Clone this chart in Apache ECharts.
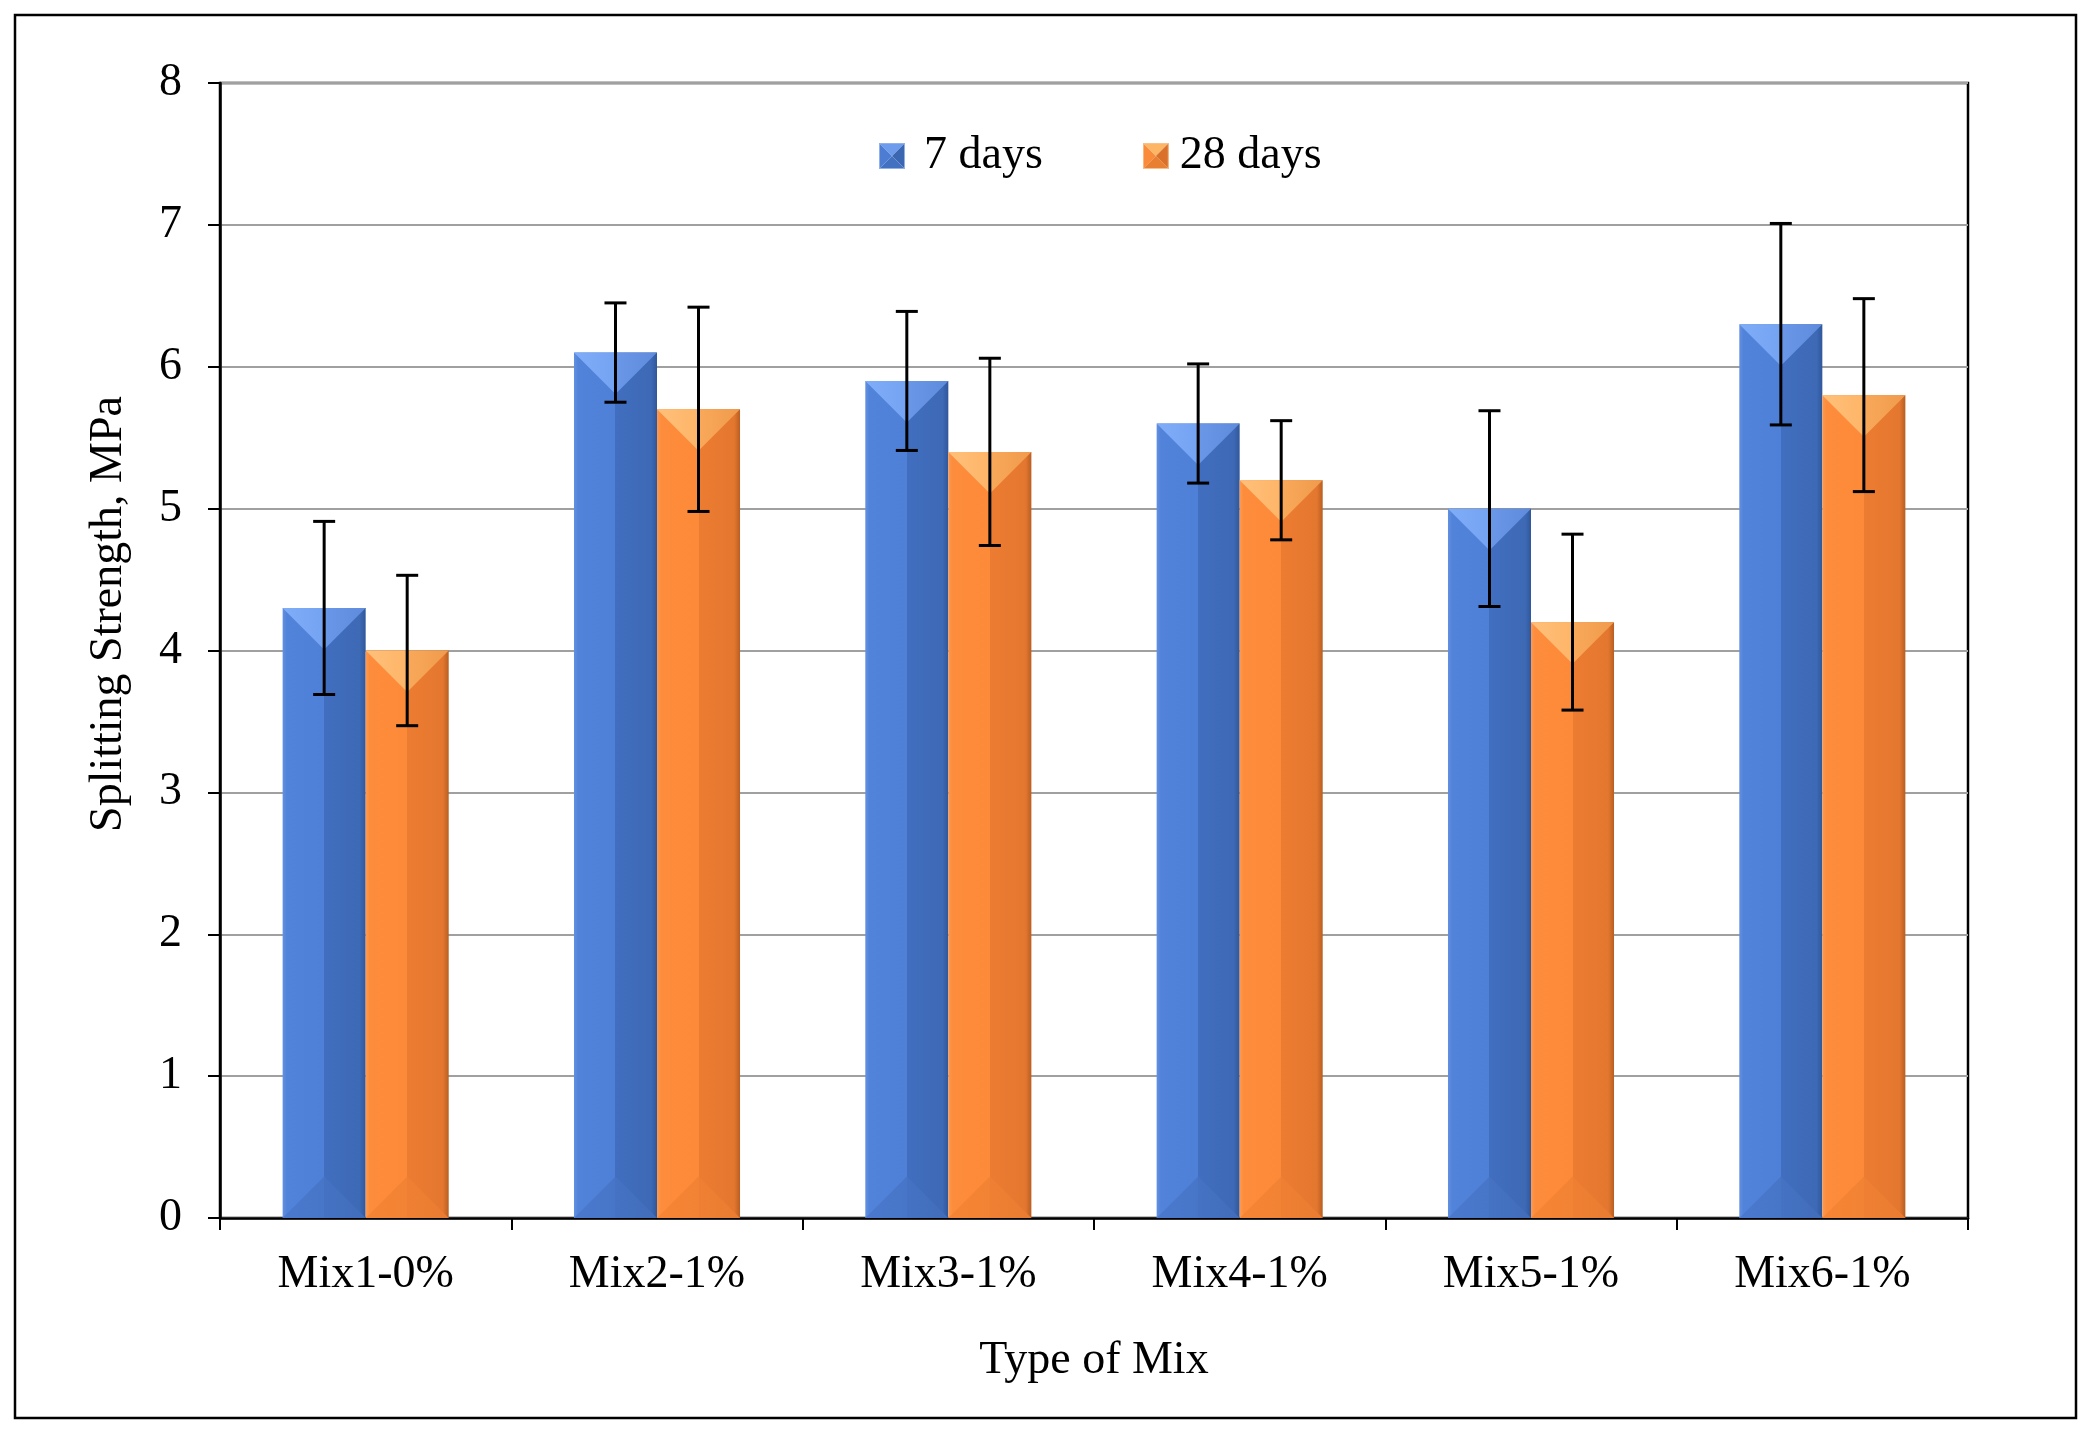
<!DOCTYPE html>
<html lang="en">
<head>
    <meta charset="UTF-8">
    <title>Splitting Strength</title>
    <script src="https://cdn.jsdelivr.net/npm/echarts@6/dist/echarts.min.js"></script>
    <style>
        body { margin: 0; background: #fff; }
    </style>
</head>
<body>
    <div id="main" style="width: 2092px;height: 1433px"></div>
    <script type="application/javascript">
        // data
        var categories = ['Mix1-0%', 'Mix2-1%', 'Mix3-1%', 'Mix4-1%', 'Mix5-1%', 'Mix6-1%'];
        var days7 = [4.3, 6.1, 5.9, 5.6, 5.0, 6.3];
        var days28 = [4.0, 5.7, 5.4, 5.2, 4.2, 5.8];
        var err7 = [0.61, 0.35, 0.49, 0.42, 0.69, 0.71];
        var err28 = [0.53, 0.72, 0.66, 0.42, 0.62, 0.68];
        var yTicks = [0, 1, 2, 3, 4, 5, 6, 7, 8];

        var FONT = 'Liberation Serif';
        var GAP = 0.43; // bar category gap ratio

        var myChart = echarts.init(document.getElementById('main'));

        function hGrad(stops) {
            return new echarts.graphic.LinearGradient(0, 0, 1, 0, stops);
        }

        var blueBody = hGrad([
            {offset: 0, color: '#6390e0'}, {offset: 0.05, color: '#5283da'},
            {offset: 0.5, color: '#4f80d7'}, {offset: 0.5, color: '#416ebf'},
            {offset: 0.93, color: '#3d69b5'}, {offset: 1, color: '#30579a'}
        ]);
        var orangeBody = hGrad([
            {offset: 0, color: '#fd9a50'}, {offset: 0.05, color: '#fd8c3c'},
            {offset: 0.5, color: '#fd8a38'}, {offset: 0.5, color: '#ec7c31'},
            {offset: 0.93, color: '#e4772f'}, {offset: 1, color: '#b85e22'}
        ]);
        var blueTop = hGrad([
            {offset: 0, color: '#80adf7'}, {offset: 0.5, color: '#74a3f3'},
            {offset: 0.5, color: '#6a97e8'}, {offset: 1, color: '#5f8bdc'}
        ]);
        var orangeTop = hGrad([
            {offset: 0, color: '#ffc07a'}, {offset: 0.5, color: '#feb568'},
            {offset: 0.5, color: '#f9a95a'}, {offset: 1, color: '#f09a4c'}
        ]);
        var blueFoot = hGrad([
            {offset: 0, color: '#4a79cd'}, {offset: 0.5, color: '#4776c9'},
            {offset: 0.5, color: '#4572c3'}, {offset: 1, color: '#416dba'}
        ]);
        var orangeFoot = hGrad([
            {offset: 0, color: '#f68535'}, {offset: 0.5, color: '#f38334'},
            {offset: 0.5, color: '#ef8033'}, {offset: 1, color: '#e97c31'}
        ]);

        // bevelled square legend icons
        function bevelIcon(top, left, right, bottom, edge) {
            var svg = '<svg xmlns="http://www.w3.org/2000/svg" width="26" height="26" viewBox="0 0 26 26">' +
                '<polygon points="0,0 26,0 13,13" fill="' + top + '"/>' +
                '<polygon points="0,0 13,13 0,26" fill="' + left + '"/>' +
                '<polygon points="26,0 26,26 13,13" fill="' + right + '"/>' +
                '<polygon points="0,26 13,13 26,26" fill="' + bottom + '"/>' +
                '<rect x="0.5" y="0.5" width="25" height="25" fill="none" stroke="' + edge + '"/>' +
                '</svg>';
            return 'image://data:image/svg+xml;charset=utf-8,' + encodeURIComponent(svg);
        }
        var blueIcon = bevelIcon('#6e9cec', '#4c7dd3', '#3b67b2', '#4271c2', '#8fb0e8');
        var orangeIcon = bevelIcon('#fdb566', '#f98b3a', '#d9712b', '#e98031', '#fbc08a');

        function barBox(api, side) {
            var idx = api.value(0);
            var v = api.value(1);
            var top = api.coord([idx, v]);
            var base = api.coord([idx, 0]);
            var w = api.size([1, 0])[0] * (1 - GAP) / 2;
            var x0 = side < 0 ? top[0] - w : top[0];
            return {x0: x0, x1: x0 + w, xm: x0 + w / 2, top: top[1], base: base[1], w: w};
        }

        function bevelRender(side, topFill, footFill) {
            return function (params, api) {
                var b = barBox(api, side);
                var d = Math.min(b.w / 2, (b.base - b.top) / 2);
                return {
                    type: 'group',
                    children: [
                        {type: 'polygon', shape: {points: [[b.x0, b.top], [b.x1, b.top], [b.xm, b.top + d]]},
                            style: {fill: topFill}},
                        {type: 'polygon', shape: {points: [[b.x0, b.base], [b.x1, b.base], [b.xm, b.base - d]]},
                            style: {fill: footFill}}
                    ]
                };
            };
        }

        function errRender(side) {
            return function (params, api) {
                var idx = api.value(0);
                var lo = api.coord([idx, api.value(1)]);
                var hi = api.coord([idx, api.value(2)]);
                var w = api.size([1, 0])[0] * (1 - GAP) / 2;
                var x = lo[0] + side * w / 2;
                var cap = 11;
                var st = {stroke: '#000', lineWidth: 3};
                return {
                    type: 'group',
                    children: [
                        {type: 'line', shape: {x1: x, y1: lo[1], x2: x, y2: hi[1]}, style: st},
                        {type: 'line', shape: {x1: x - cap, y1: hi[1], x2: x + cap, y2: hi[1]}, style: st},
                        {type: 'line', shape: {x1: x - cap, y1: lo[1], x2: x + cap, y2: lo[1]}, style: st}
                    ]
                };
            };
        }

        var bev7 = days7.map(function (v, i) { return [i, v]; });
        var bev28 = days28.map(function (v, i) { return [i, v]; });
        var eb7 = days7.map(function (v, i) { return [i, v - err7[i], v + err7[i]]; });
        var eb28 = days28.map(function (v, i) { return [i, v - err28[i], v + err28[i]]; });

        var option = {
            animation: false,
            backgroundColor: '#fff',
            textStyle: {fontFamily: FONT, color: '#000'},
            grid: {
                left: 220, right: 124, top: 83, bottom: 215,
                show: true, borderColor: '#000', borderWidth: 2.5
            },
            legend: {
                data: [
                    {name: '7 days', icon: blueIcon, textStyle: {padding: [0, 0, 0, 14]}},
                    {name: '28 days', icon: orangeIcon, textStyle: {padding: [0, 0, 0, 6]}}
                ],
                top: 128,
                left: 874,
                itemWidth: 26,
                itemHeight: 26,
                itemGap: 100,
                textStyle: {fontFamily: FONT, fontSize: 46, color: '#000'}
            },
            graphic: [
                {
                    type: 'rect', silent: true,
                    shape: {x: 15, y: 15, width: 2061, height: 1403},
                    style: {fill: 'none', stroke: '#000', lineWidth: 2.5}
                },
                {
                    type: 'text', silent: true,
                    x: 109, y: 614, rotation: Math.PI / 2,
                    style: {
                        text: 'Splitting Strength, MPa', fontFamily: FONT, fontSize: 46,
                        fill: '#000', align: 'center', verticalAlign: 'middle'
                    }
                }
            ],
            xAxis: {
                type: 'category',
                data: categories,
                name: 'Type of Mix',
                nameLocation: 'middle',
                nameGap: 120,
                nameTextStyle: {fontFamily: FONT, fontSize: 46, color: '#000'},
                axisLine: {lineStyle: {color: '#000', width: 2.5}},
                axisTick: {show: true, length: 12, lineStyle: {color: '#000', width: 2}},
                axisLabel: {fontFamily: FONT, fontSize: 46, color: '#000', margin: 34}
            },
            yAxis: {
                type: 'value',
                min: yTicks[0],
                max: yTicks[yTicks.length - 1],
                interval: 1,
                axisLine: {show: true, lineStyle: {color: '#000', width: 2.5}},
                axisTick: {show: true, length: 12, lineStyle: {color: '#000', width: 2}},
                axisLabel: {fontFamily: FONT, fontSize: 46, color: '#000', margin: 38},
                splitLine: {lineStyle: {color: '#a0a0a0', width: 2}}
            },
            series: [
                {
                    name: '7 days', type: 'bar', data: days7,
                    barGap: '0%', barCategoryGap: (GAP * 100) + '%',
                    itemStyle: {color: blueBody},
                    z: 2
                },
                {
                    name: '28 days', type: 'bar', data: days28,
                    barGap: '0%', barCategoryGap: (GAP * 100) + '%',
                    itemStyle: {color: orangeBody},
                    z: 2
                },
                {
                    name: 'bevel7', type: 'custom', data: bev7, z: 3, silent: true,
                    encode: {x: 0, y: 1}, renderItem: bevelRender(-1, blueTop, blueFoot)
                },
                {
                    name: 'bevel28', type: 'custom', data: bev28, z: 3, silent: true,
                    encode: {x: 0, y: 1}, renderItem: bevelRender(1, orangeTop, orangeFoot)
                },
                {
                    name: 'err7', type: 'custom', data: eb7, z: 5, silent: true,
                    encode: {x: 0, y: [1, 2]}, renderItem: errRender(-1)
                },
                {
                    name: 'err28', type: 'custom', data: eb28, z: 5, silent: true,
                    encode: {x: 0, y: [1, 2]}, renderItem: errRender(1)
                }
            ]
        };

        myChart.setOption(option, true);
    </script>
</body>
</html>
